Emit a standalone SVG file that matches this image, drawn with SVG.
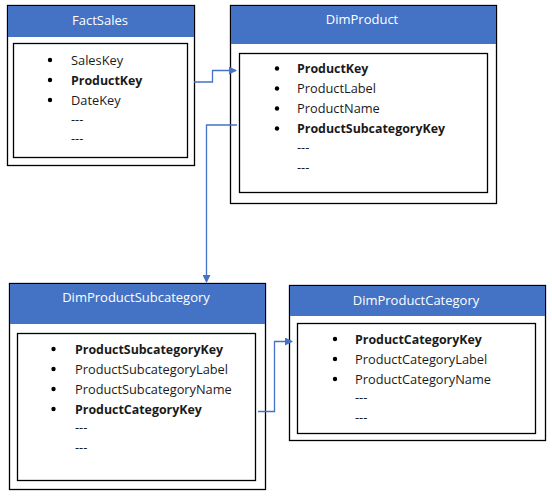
<svg xmlns="http://www.w3.org/2000/svg" width="552" height="500" viewBox="0 0 552 500">
<style>
.outer{fill:#fff;stroke:#000;stroke-width:1.3}
.hdr{fill:#4472C4}
.inner{fill:none;stroke:#000;stroke-width:1.3}
.title{font-family:"Open Sans","Noto Sans",sans-serif;font-size:13px;fill:#fff;text-anchor:middle}
.t{font-family:"Open Sans","Noto Sans",sans-serif;font-size:12.8px;fill:#1a1a1a}
.b{font-weight:bold;font-size:12.4px}
.dot{fill:#000}
.conn{fill:none;stroke:#4472C4;stroke-width:1.3}
</style>
<defs>
<marker id="ah" markerWidth="8" markerHeight="8" refX="7" refY="4" orient="auto" markerUnits="userSpaceOnUse">
<path d="M0,0 L8,4 L0,8 Z" fill="#4472C4"/>
</marker>
</defs>
<rect x="0" y="0" width="552" height="500" fill="#fff"/>
<g id="FactSales">
<rect class="outer" x="7.5" y="5.5" width="187" height="160"/>
<rect class="hdr" x="8" y="6" width="186" height="31"/>
<text class="title" x="100" y="24.5">FactSales</text>
<rect class="inner" x="13.5" y="43.5" width="174" height="114"/>
<circle class="dot" cx="50" cy="60" r="2.2"/><text class="t" x="71" y="64.5">SalesKey</text>
<circle class="dot" cx="50" cy="80" r="2.2"/><text class="t b" x="71" y="84.5">ProductKey</text>
<circle class="dot" cx="50" cy="100" r="2.2"/><text class="t" x="71" y="104.5">DateKey</text>
<text class="t" x="71" y="124">---</text>
<text class="t" x="71" y="143">---</text>
</g>
<g id="DimProduct">
<rect class="outer" x="230.5" y="5.5" width="266" height="198"/>
<rect class="hdr" x="231" y="6" width="265" height="38"/>
<text class="title" x="362" y="24">DimProduct</text>
<rect class="inner" x="239.5" y="53.5" width="248" height="139"/>
<circle class="dot" cx="277" cy="68.5" r="2.2"/><text class="t b" x="297" y="73">ProductKey</text>
<circle class="dot" cx="277" cy="88.5" r="2.2"/><text class="t" x="297" y="93">ProductLabel</text>
<circle class="dot" cx="277" cy="108.5" r="2.2"/><text class="t" x="297" y="113">ProductName</text>
<circle class="dot" cx="277" cy="128.5" r="2.2"/><text class="t b" x="297" y="133">ProductSubcategoryKey</text>
<text class="t" x="297" y="152">---</text>
<text class="t" x="297" y="172">---</text>
</g>
<g id="DimProductSubcategory">
<rect class="outer" x="9.5" y="283.5" width="256" height="206"/>
<rect class="hdr" x="10" y="284" width="255" height="40"/>
<text class="title" x="136" y="302">DimProductSubcategory</text>
<rect class="inner" x="17.5" y="333.5" width="238" height="147"/>
<circle class="dot" cx="53.5" cy="349" r="2.2"/><text class="t b" x="75" y="353.5">ProductSubcategoryKey</text>
<circle class="dot" cx="53.5" cy="369" r="2.2"/><text class="t" x="75" y="373.5">ProductSubcategoryLabel</text>
<circle class="dot" cx="53.5" cy="389" r="2.2"/><text class="t" x="75" y="393.5">ProductSubcategoryName</text>
<circle class="dot" cx="53.5" cy="409" r="2.2"/><text class="t b" x="75" y="413.5">ProductCategoryKey</text>
<text class="t" x="75" y="432">---</text>
<text class="t" x="75" y="452">---</text>
</g>
<g id="DimProductCategory">
<rect class="outer" x="289.5" y="285.5" width="256" height="155"/>
<rect class="hdr" x="290" y="286" width="255" height="30"/>
<text class="title" x="416" y="304.5">DimProductCategory</text>
<rect class="inner" x="297.5" y="323.5" width="238" height="110"/>
<circle class="dot" cx="335" cy="339" r="2.2"/><text class="t b" x="355" y="343.5">ProductCategoryKey</text>
<circle class="dot" cx="335" cy="359" r="2.2"/><text class="t" x="355" y="363.5">ProductCategoryLabel</text>
<circle class="dot" cx="335" cy="379" r="2.2"/><text class="t" x="355" y="383.5">ProductCategoryName</text>
<text class="t" x="355" y="402">---</text>
<text class="t" x="355" y="422">---</text>
</g>
<g id="connectors">
<path class="conn" d="M194,82 H212.5 V70.5 H236" marker-end="url(#ah)"/>
<path class="conn" d="M237,125 H206.5 V282" marker-end="url(#ah)"/>
<path class="conn" d="M258,411.5 H274.5 V341.5 H292" marker-end="url(#ah)"/>
</g>
</svg>
